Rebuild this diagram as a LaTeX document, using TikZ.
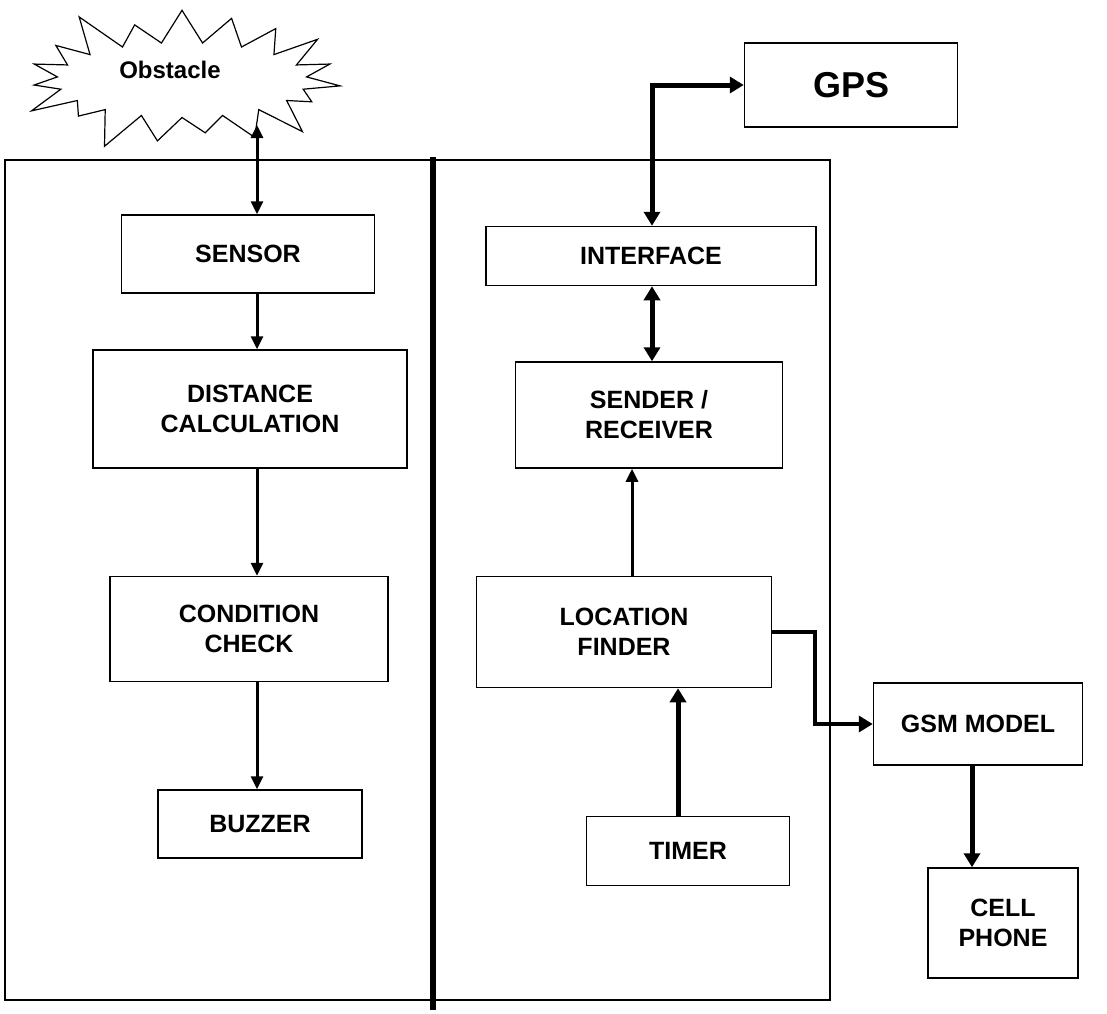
\documentclass[tikz,border=0pt]{standalone}
\usepackage{fontspec}
\setmainfont{Liberation Sans}
\usetikzlibrary{shapes.symbols,arrows.meta}
\begin{document}
\begin{tikzpicture}[x=1pt,y=-1pt,
  box/.style={draw,line width=1.5pt,align=center,font=\fontsize{25}{30}\selectfont\bfseries,inner sep=0pt},
  thin/.style={line width=3pt,-{Triangle[length=13pt,width=12pt]}},
  thick/.style={line width=5pt,-{Triangle[length=14pt,width=16pt]}}]
\useasboundingbox (0,0) rectangle (1107,1013);
\draw[line width=2pt] (5,160) rectangle (830,1000);
\draw[line width=6pt] (433,157) -- (433,1010);
\node[draw,starburst,starburst points=19,starburst point height=45pt,minimum width=340pt,minimum height=165pt,line width=1.2pt,fill=white,inner sep=0pt] (obs) at (182,80) {};
\node[font=\fontsize{24}{28}\selectfont\bfseries] (obstxt) at (170,70) {Obstacle};
\node[box,minimum width=253pt,minimum height=78pt] (sensor) at (248,254) {SENSOR};
\node[box,minimum width=314pt,minimum height=118pt] (dist) at (250,409) {DISTANCE\\CALCULATION};
\node[box,minimum width=278pt,minimum height=105pt] (cond) at (249,629) {CONDITION\\CHECK};
\node[box,minimum width=204pt,minimum height=68pt] (buzz) at (260,824) {BUZZER};
\node[box,minimum width=213pt,minimum height=84pt,font=\fontsize{36}{40}\selectfont\bfseries] (gps) at (851,85) {GPS};
\node[box,minimum width=330pt,minimum height=59pt] (iface) at (651,256) {INTERFACE};
\node[box,minimum width=267pt,minimum height=106pt] (send) at (649,415) {SENDER /\\RECEIVER};
\node[box,minimum width=295pt,minimum height=111pt] (loc) at (624,632) {LOCATION\\FINDER};
\node[box,minimum width=203pt,minimum height=69pt] (timer) at (688,851) {TIMER};
\node[box,minimum width=209pt,minimum height=82pt] (gsm) at (978,724) {GSM MODEL};
\node[box,minimum width=150pt,minimum height=110pt] (cell) at (1003,923) {CELL\\PHONE};
\coordinate (o) at (257,125);
\draw[thin,{Triangle[length=13pt,width=12pt]}-{Triangle[length=13pt,width=12pt]}] (o) -- (sensor.north -| o);
\draw[thin] (sensor.south -| o) -- (dist.north -| o);
\draw[thin] (dist.south -| o) -- (cond.north -| o);
\draw[thin] (cond.south -| o) -- (buzz.north -| o);
\coordinate (g) at (652,85);
\draw[thick,{Triangle[length=14pt,width=16pt]}-{Triangle[length=14pt,width=16pt]}] (iface.north -| g) -- (g) -- (gps.west);
\draw[thick,{Triangle[length=14pt,width=16pt]}-{Triangle[length=14pt,width=16pt]}] (iface.south -| g) -- (send.north -| g);
\coordinate (l) at (632,0);
\draw[thin] (loc.north -| l) -- (send.south -| l);
\coordinate (t) at (678,0);
\draw[thick] (timer.north -| t) -- (loc.south -| t);
\coordinate (r) at (815,632);
\draw[line width=4pt,-{Triangle[length=14pt,width=16pt]}] (loc.east) -- (r) -- (r |- gsm.west) -- (gsm.west);
\coordinate (c) at (972,0);
\draw[thick] (gsm.south -| c) -- (cell.north -| c);
\end{tikzpicture}
\end{document}
